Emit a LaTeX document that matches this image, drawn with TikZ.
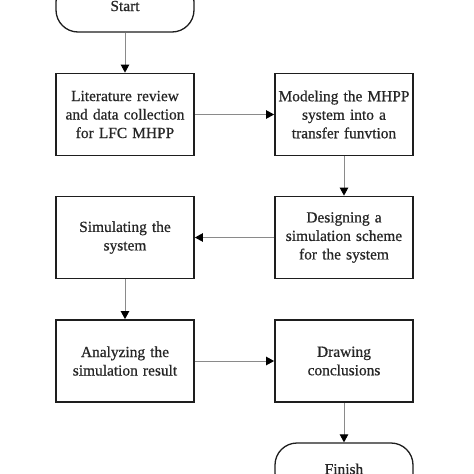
\documentclass[tikz,border=0pt]{standalone}
\usepackage{fontspec}
\setmainfont{Liberation Serif}[FakeBold=0.6]
\usetikzlibrary{arrows.meta}
\definecolor{txt}{HTML}{262626}
\definecolor{bord}{HTML}{1E1E1E}
\definecolor{arr}{HTML}{8A8A8A}
\tikzset{
  stepbox/.style={draw=bord, line width=1.8pt, minimum width=138pt, minimum height=82pt,
    text width=136pt, align=center, inner sep=0pt, text=txt,
    font=\fontsize{15.4pt}{18.5pt}\selectfont},
  term/.style={draw=bord, line width=1.3pt, rounded corners=22pt, minimum width=138pt,
    minimum height=52pt, inner sep=0pt, text=txt, font=\fontsize{15.4pt}{18.5pt}\selectfont},
  flow/.style={draw=arr, line width=0.9pt, -{Triangle[length=8pt,width=8.5pt,fill=black,color=black]}}
}
\begin{document}
\begin{tikzpicture}[x=1pt,y=-1pt]
\useasboundingbox (0,0) rectangle (474,474);
\clip (0,0) rectangle (474,474);
\fill[white] (0,0) rectangle (474,474);
\node[term] (start) at (125,6) {Start};
\node[stepbox] (lit) at (125,114.5) {Literature review\\and data collection\\for LFC MHPP};
\node[stepbox] (model) at (344,114.5) {Modeling the MHPP\\system into a\\transfer funvtion};
\node[stepbox] (design) at (344,237.5) {Designing a\\simulation scheme\\for the system};
\node[stepbox] (sim) at (125,237.5) {Simulating the\\system};
\node[stepbox] (anal) at (125,361) {Analyzing the\\simulation result};
\node[stepbox] (concl) at (344,361) {Drawing\\conclusions};
\node[term] (finish) at (344,469) {Finish};
\draw[flow] (start) -- (lit);
\draw[flow] (lit) -- (model);
\draw[flow] (model) -- (design);
\draw[flow] (design) -- (sim);
\draw[flow] (sim) -- (anal);
\draw[flow] (anal) -- (concl);
\draw[flow] (concl) -- (finish);
\end{tikzpicture}
\end{document}
